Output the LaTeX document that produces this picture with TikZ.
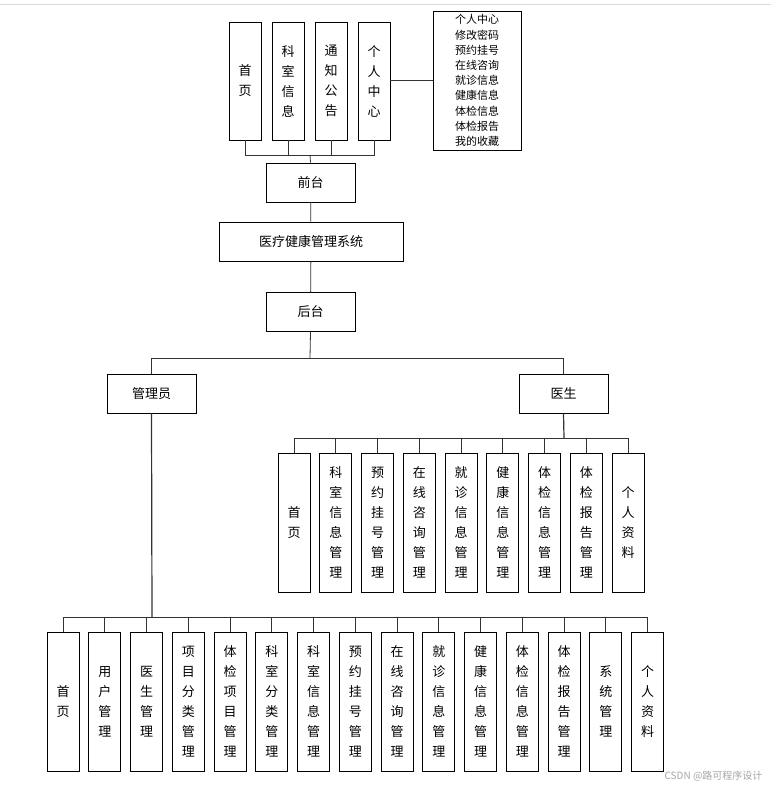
\documentclass[tikz,border=0pt]{standalone}
\usepackage{fontspec}
\setmainfont{Noto Sans CJK SC}
\begin{document}
\begin{tikzpicture}[x=1pt,y=-1pt,
  box/.style={draw,thick,fill=white,inner sep=0pt,font=\fontsize{13}{20}\selectfont},
  vbox/.style={box,minimum width=32pt,align=center},
  hbox/.style={box,minimum width=89pt,minimum height=39pt},
  ln/.style={thick,draw=black!80}]
\useasboundingbox (0,0) rectangle (771,790);
\fill[white] (0,0) rectangle (771,790);
\draw[black!15] (0,4)--(771,4);
% top
\foreach \i/\x/\t in {1/245/首\\页,2/288/科\\室\\信\\息,3/331/通\\知\\公\\告,4/374/个\\人\\中\\心}
  \node[vbox,minimum height=118pt] (t\i) at (\x,81) {\t};
\node[box,minimum width=88pt,minimum height=139pt,align=center,font=\fontsize{11}{15.2}\selectfont] (pc) at (477,80.5) {个人中心\\修改密码\\预约挂号\\在线咨询\\就诊信息\\健康信息\\体检信息\\体检报告\\我的收藏};
\draw[ln] (t4.east|-pc) -- (pc.west);
\node[hbox] (qt) at (310.5,182.5) {前台};
\node[box,minimum width=184pt,minimum height=39pt] (sys) at (311,241.5) {医疗健康管理系统};
\node[hbox] (ht) at (310.5,312) {后台};
\coordinate (tb) at (310,155);
\draw[ln] (t1.south) |- (tb) (t2.south) |- (tb) (t3.south) |- (tb) (t4.south) |- (tb);
\draw[ln] (tb) -- (qt.north);
\draw[ln] (qt) -- (sys) (sys) -- (ht);
% roles
\node[hbox] (adm) at (151.5,393.5) {管理员};
\node[hbox] (doc) at (563.5,393.5) {医生};
\coordinate (rb) at (310,358);
\draw[ln] (ht.south) -- (rb);
\draw[ln] (rb) -| (adm.north) (rb) -| (doc.north);
% doctor row
\foreach \i/\t in {0/首\\页,1/科\\室\\信\\息\\管\\理,2/预\\约\\挂\\号\\管\\理,3/在\\线\\咨\\询\\管\\理,4/就\\诊\\信\\息\\管\\理,5/健\\康\\信\\息\\管\\理,6/体\\检\\信\\息\\管\\理,7/体\\检\\报\\告\\管\\理,8/个\\人\\资\\料}
  \node[vbox,minimum height=139pt] (d\i) at ({294+41.75*\i},522.5) {\t};
\coordinate (db) at (564,438);
\draw[ln,very thick] (doc.south) -- (db);
\foreach \i in {0,...,8} \draw[ln] (db) -| (d\i.north);
% admin row
\foreach \i/\t in {0/首\\页,1/用\\户\\管\\理,2/医\\生\\管\\理,3/项\\目\\分\\类\\管\\理,4/体\\检\\项\\目\\管\\理,5/科\\室\\分\\类\\管\\理,6/科\\室\\信\\息\\管\\理,7/预\\约\\挂\\号\\管\\理,8/在\\线\\咨\\询\\管\\理,9/就\\诊\\信\\息\\管\\理,10/健\\康\\信\\息\\管\\理,11/体\\检\\信\\息\\管\\理,12/体\\检\\报\\告\\管\\理,13/系\\统\\管\\理,14/个\\人\\资\\料}
  \node[vbox,minimum height=139pt] (a\i) at ({63+41.75*\i},701.5) {\t};
\coordinate (ab) at (152,617);
\draw[ln,very thick] (adm.south) -- (ab);
\foreach \i in {0,...,14} \draw[ln] (ab) -| (a\i.north);
\node[text=black!35,font=\fontsize{10}{12}\selectfont,anchor=east] (wm) at (766,776) {CSDN @路可程序设计};
\end{tikzpicture}
\end{document}
